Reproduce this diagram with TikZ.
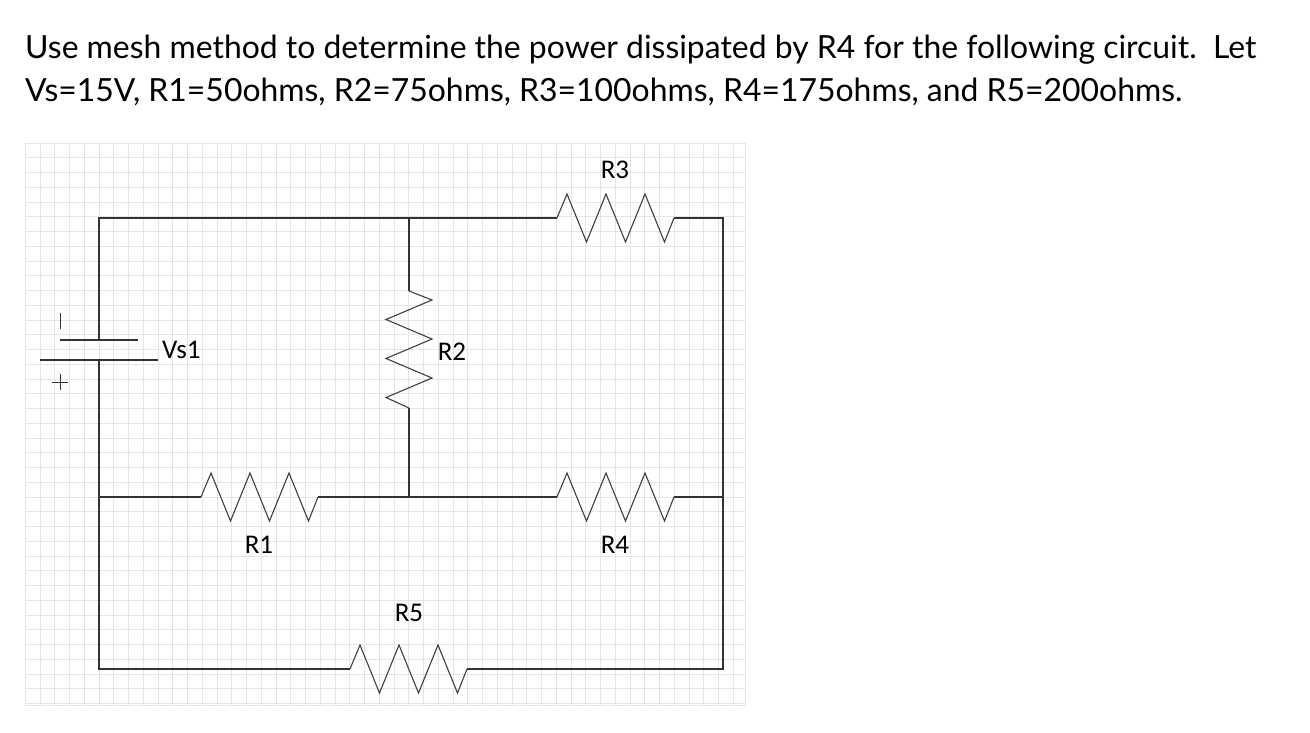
\documentclass[tikz,border=0pt]{standalone}
\usepackage{fontspec}
\setmainfont{Lato}
\newfontfamily\lblfont{Carlito}
\begin{document}
\begin{tikzpicture}[x=1pt,y=-1pt,
  wire/.style={draw=black!80,line width=1.3pt},
  lbl/.style={font=\lblfont\fontsize{27}{29}\selectfont,inner sep=0pt}]
\useasboundingbox[fill=white] (0,0) rectangle (1310,732);
\node[anchor=base west,inner sep=0pt,font=\fontsize{31.9}{36}\selectfont] (l1) at (25,58) {Use mesh method to determine the power dissipated by R4 for the following circuit.\ \ Let};
\node[anchor=base west,inner sep=0pt,font=\fontsize{31.9}{36}\selectfont] (l2) at (25,101) {Vs=15V, R1=50ohms, R2=75ohms, R3=100ohms, R4=175ohms, and R5=200ohms.};
% grid
\foreach \i in {0,...,48}{
  \pgfmathsetmacro\xx{25.25+\i*14.75}
  \draw[black!10,line width=0.6pt] (\xx,143) -- (\xx,705);}
\foreach \i in {0,...,38}{
  \pgfmathsetmacro\yy{143+\i*14.75}
  \draw[black!10,line width=0.6pt] (25,\yy) -- (745,\yy);}
\draw[black!10,line width=0.6pt] (25,143) rectangle (745,705);
% coordinates
\coordinate (tl) at (99,218); \coordinate (tm) at (409,218);
\coordinate (r3a) at (557,218); \coordinate (r3b) at (674,218); \coordinate (tr) at (723,218);
\coordinate (bp) at (99,340); \coordinate (bn) at (99,360);
\coordinate (ml) at (99,497); \coordinate (r1a) at (201,497); \coordinate (r1b) at (318,497);
\coordinate (mm) at (409,497); \coordinate (r4a) at (557,497); \coordinate (r4b) at (674,497);
\coordinate (mr) at (723,497);
\coordinate (bl) at (99,669); \coordinate (r5a) at (350,669); \coordinate (r5b) at (467,669);
\coordinate (br) at (723,669);
\coordinate (r2a) at (409,291); \coordinate (r2b) at (409,408);
% wires
\draw[wire] (bp) -- (tl) -- (r3a);
\draw[wire] (tm) -- (r2a); \draw[wire] (r2b) -- (mm);
\draw[wire] (r3b) -- (tr) -- (br) -- (r5b);
\draw[wire] (r5a) -- (bl) -- (bn);
\draw[wire] (ml) -- (r1a); \draw[wire] (r1b) -- (r4a); \draw[wire] (r4b) -- (mr);
% resistors
\foreach \s/\yb in {557/218,557/497,201/497,350/669}{
  \draw[black!75,line width=1.1pt,line join=miter] (\s,\yb) -- ++(10,-24) -- ++(19.5,48) -- ++(19.5,-48) -- ++(19.5,48) -- ++(19.5,-48) -- ++(19.5,48) -- ++(9.5,-24);}
\draw[black!75,line width=1.1pt] (r2a) -- ++(23,9) -- ++(-46,19.5) -- ++(46,19.5) -- ++(-46,19.5) -- ++(46,19.5) -- ++(-46,19.5) -- (r2b);
% battery
\draw[black!80,line width=1.3pt] (60,340) -- (138,340);
\draw[black!80,line width=1.3pt] (40,360) -- (158,360);
\draw[black!80,line width=1pt] (60,313) -- (60,329);
\draw[black!80,line width=1pt] (52,382) -- (68,382) (60,374) -- (60,390);
% labels
\node[lbl,anchor=west] (vs) at (162,350) {Vs1};
\node[lbl] (l_r2) at (452,352) {R2};
\node[lbl] (l_r3) at (615,170) {R3};
\node[lbl] (l_r1) at (259,545) {R1};
\node[lbl] (l_r4) at (615,545) {R4};
\node[lbl] (l_r5) at (409,613) {R5};
\end{tikzpicture}
\end{document}
